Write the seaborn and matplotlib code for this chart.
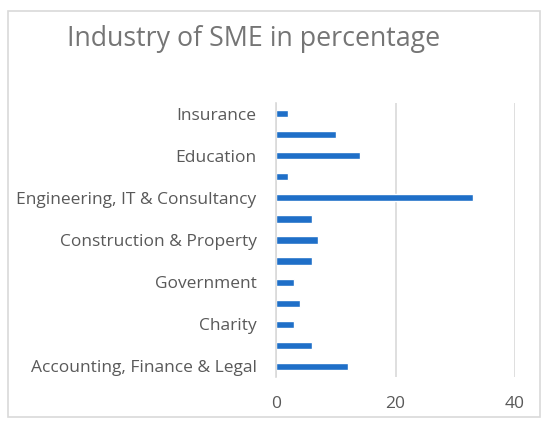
import pandas as pd
import matplotlib.pyplot as plt
import seaborn as sns
from matplotlib.patches import Rectangle

# Data, listed top to bottom as in the chart (only every other label is shown)
industry = ["Insurance", "", "Education", "", "Engineering, IT & Consultancy", "",
            "Construction & Property", "", "Government", "", "Charity", "",
            "Accounting, Finance & Legal"]
share = [2, 10, 14, 2, 33, 6, 7, 6, 3, 4, 3, 6, 12]
x_ticks = [0, 20, 40]

df = pd.DataFrame({"pos": range(len(share)), "share": share})

sns.set_style("white")
plt.rcParams['font.family'] = ['Open Sans', 'DejaVu Sans']

fig = plt.figure(figsize=(5.5, 4.29), dpi=100)
ax = fig.add_axes([0.5018, 0.1212, 0.4346, 0.6387])

sns.barplot(data=df, x="share", y="pos", orient="h", color="#1f6fc8",
            width=0.34, saturation=1, ax=ax)

ax.set_xlim(0, 40)
ax.set_xticks(x_ticks)
ax.set_yticks(range(len(industry)))
ax.set_yticklabels(industry)
ax.tick_params(axis='both', length=0, colors="#595959", labelsize=12.5)
ax.tick_params(axis='x', pad=14)
ax.tick_params(axis='y', pad=14)
ax.set_xlabel("")
ax.set_ylabel("")
ax.xaxis.grid(True, color="#d9d9d9", linewidth=1.2)
ax.set_axisbelow(True)
for side in ["top", "right", "bottom"]:
    ax.spines[side].set_visible(False)
ax.spines["left"].set_color("#d9d9d9")
ax.spines["left"].set_linewidth(1.2)

# outer chart border
fig.patches.append(Rectangle((0.0145, 0.028), 0.967, 0.946, transform=fig.transFigure,
                             fill=False, edgecolor="#d9d9d9", linewidth=1.2))

fig.text(0.122, 0.91, "Industry of SME in percentage", fontsize=19.3, color="#757575",
         ha="left", va="center")

fig.savefig("out.png", dpi=100)
